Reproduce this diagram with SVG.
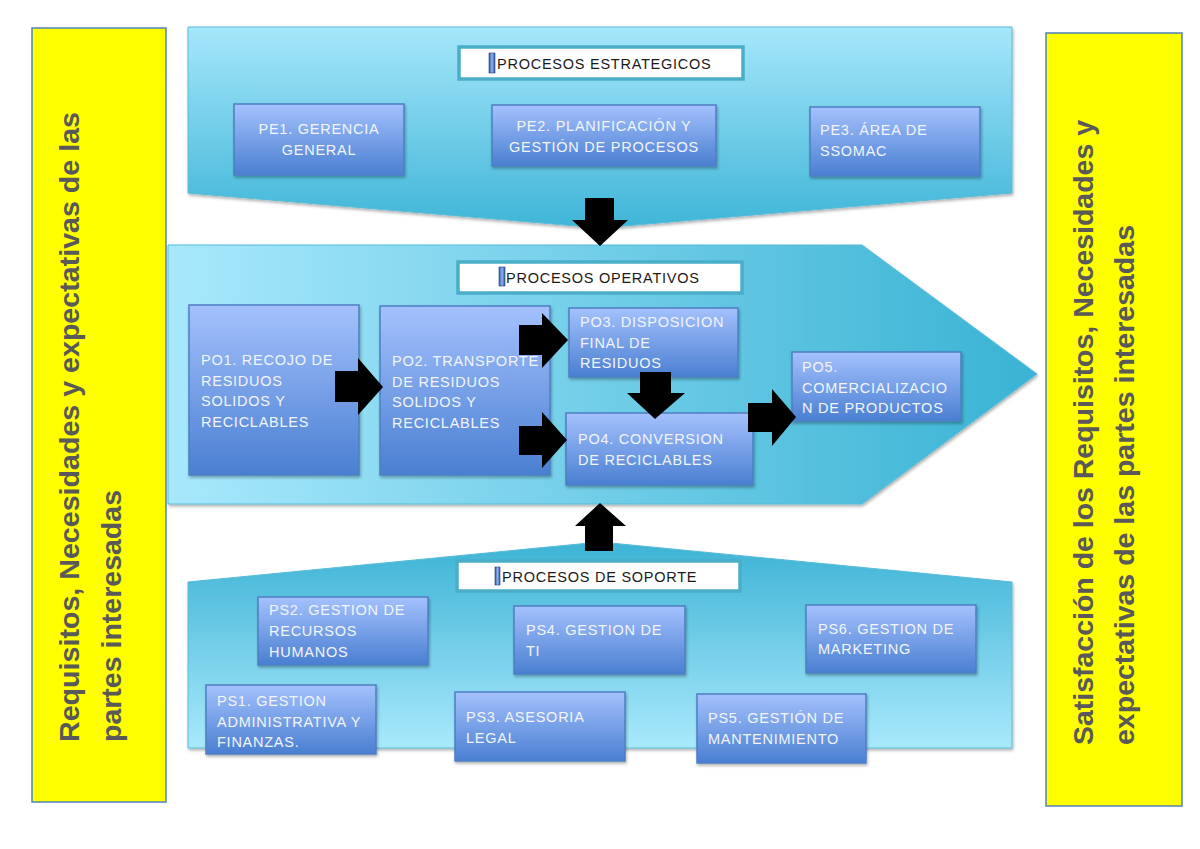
<svg xmlns="http://www.w3.org/2000/svg" width="1200" height="849" viewBox="0 0 1200 849">
<defs>
<linearGradient id="gTop" x1="0" y1="0" x2="0" y2="1"><stop offset="0" stop-color="#a6e7fb"/><stop offset="1" stop-color="#3fb5d7"/></linearGradient>
<linearGradient id="gBot" x1="0" y1="0" x2="0" y2="1"><stop offset="0" stop-color="#3db3d5"/><stop offset="1" stop-color="#a9e9fc"/></linearGradient>
<linearGradient id="gMid" x1="0" y1="0" x2="1" y2="0"><stop offset="0" stop-color="#a8e8fc"/><stop offset="1" stop-color="#3ab3d4"/></linearGradient>
<linearGradient id="gNode" x1="0" y1="0" x2="0" y2="1"><stop offset="0" stop-color="#a4c1fd"/><stop offset="1" stop-color="#4a7fd1"/></linearGradient>
<linearGradient id="gIcon" x1="0" y1="0" x2="1" y2="0"><stop offset="0" stop-color="#2f5aa8"/><stop offset="0.5" stop-color="#8fb0ee"/><stop offset="1" stop-color="#2f5aa8"/></linearGradient>
<filter id="sh" x="-10%" y="-10%" width="125%" height="130%"><feDropShadow dx="1" dy="2" stdDeviation="1.5" flood-color="#000" flood-opacity="0.3"/></filter>
</defs>
<style>
.side{fill:#ffff00;stroke:#4f81bd;stroke-width:1.5}
.sideT{font-family:"Liberation Sans",Arial,sans-serif;font-weight:bold;font-size:28.5px;fill:#595959}
.band{stroke:#58bcd8;stroke-width:1;filter:url(#sh)}
.node{fill:url(#gNode);stroke:#4d7fc4;stroke-width:1.5;filter:url(#sh)}
.nt{font-family:"Liberation Sans",Arial,sans-serif;font-size:14.5px;letter-spacing:0.75px;fill:#f2f4fa}
.title{fill:#ffffff;stroke:#4aaec9;stroke-width:3.5}
.tt{font-family:"Liberation Sans",Arial,sans-serif;font-size:14.5px;letter-spacing:0.75px;fill:#1a1a1a}
.icon{fill:url(#gIcon);stroke:#1f3f7a;stroke-width:0.6}
.arr{fill:#000000}
</style>

<g id="side-left">
<rect class="side" x="32" y="28" width="134" height="774"/>
<text class="sideT" transform="translate(79,742) rotate(-90)" textLength="630" lengthAdjust="spacingAndGlyphs">Requisitos, Necesidades y expectativas de las</text>
<text class="sideT" transform="translate(121,742) rotate(-90)" textLength="252" lengthAdjust="spacingAndGlyphs">partes interesadas</text>
</g>
<g id="side-right">
<rect class="side" x="1046" y="33" width="136" height="773"/>
<text class="sideT" transform="translate(1093,745) rotate(-90)" textLength="625" lengthAdjust="spacingAndGlyphs">Satisfacción de los Requisitos, Necesidades y</text>
<text class="sideT" transform="translate(1134,745) rotate(-90)" textLength="520" lengthAdjust="spacingAndGlyphs">expectativas de las partes interesadas</text>
</g>

<g id="band-estrategicos">
<polygon class="band" fill="url(#gTop)" points="188,27 1012,27 1012,193 600,228 188,193"/>
<rect class="title" x="459" y="47" width="284" height="32"/>
<rect class="icon" x="489" y="53" width="6" height="20"/>
<text class="tt" x="497" y="69">PROCESOS ESTRATEGICOS</text>
</g>
<g id="band-operativos">
<polygon class="band" fill="url(#gMid)" points="168,245 862,245 1037,374 862,504 168,504"/>
<rect class="title" x="458" y="262" width="284" height="31"/>
<rect class="icon" x="499" y="267" width="6" height="19"/>
<text class="tt" x="506" y="283">PROCESOS OPERATIVOS</text>
</g>
<g id="band-soporte">
<polygon class="band" fill="url(#gBot)" points="188,582 600,542 1012,582 1012,748 188,748"/>
<rect class="title" x="457" y="561" width="283" height="30"/>
<rect class="icon" x="495" y="567" width="5" height="18"/>
<text class="tt" x="502" y="582">PROCESOS DE SOPORTE</text>
</g>

<g id="PE1"><rect class="node" x="234" y="104" width="170" height="71"/>
<text class="nt" text-anchor="middle"><tspan x="319" y="134">PE1. GERENCIA</tspan><tspan x="319" y="155">GENERAL</tspan></text></g>
<g id="PE2"><rect class="node" x="492" y="105" width="224" height="61"/>
<text class="nt" text-anchor="middle"><tspan x="604" y="131">PE2. PLANIFICACIÓN Y</tspan><tspan x="604" y="152">GESTIÓN DE PROCESOS</tspan></text></g>
<g id="PE3"><rect class="node" x="810" y="107" width="170" height="69"/>
<text class="nt"><tspan x="820" y="135">PE3. ÁREA DE</tspan><tspan x="820" y="156">SSOMAC</tspan></text></g>

<g id="PO1"><rect class="node" x="189" y="305" width="170" height="170"/>
<text class="nt"><tspan x="201" y="365">PO1. RECOJO DE</tspan><tspan x="201" y="385.5">RESIDUOS</tspan><tspan x="201" y="406">SOLIDOS Y</tspan><tspan x="201" y="426.5">RECICLABLES</tspan></text></g>
<g id="PO2"><rect class="node" x="380" y="306" width="170" height="169"/>
<text class="nt"><tspan x="392" y="366">PO2. TRANSPORTE</tspan><tspan x="392" y="386.5">DE RESIDUOS</tspan><tspan x="392" y="407">SOLIDOS Y</tspan><tspan x="392" y="427.5">RECICLABLES</tspan></text></g>
<g id="PO3"><rect class="node" x="569" y="308" width="169" height="69"/>
<text class="nt"><tspan x="580" y="327">PO3. DISPOSICION</tspan><tspan x="580" y="347.5">FINAL DE</tspan><tspan x="580" y="368">RESIDUOS</tspan></text></g>
<g id="PO4"><rect class="node" x="566" y="413" width="187" height="72"/>
<text class="nt"><tspan x="578" y="444">PO4. CONVERSION</tspan><tspan x="578" y="465">DE RECICLABLES</tspan></text></g>
<g id="PO5"><rect class="node" x="792" y="352" width="169" height="69"/>
<text class="nt"><tspan x="802" y="372">PO5.</tspan><tspan x="802" y="392.5">COMERCIALIZACIO</tspan><tspan x="802" y="413">N DE PRODUCTOS</tspan></text></g>

<g id="PS2"><rect class="node" x="258" y="597" width="170" height="68"/>
<text class="nt"><tspan x="269" y="615">PS2. GESTION DE</tspan><tspan x="269" y="636">RECURSOS</tspan><tspan x="269" y="657">HUMANOS</tspan></text></g>
<g id="PS4"><rect class="node" x="514" y="606" width="171" height="68"/>
<text class="nt"><tspan x="526" y="635">PS4. GESTION DE</tspan><tspan x="526" y="656">TI</tspan></text></g>
<g id="PS6"><rect class="node" x="806" y="605" width="170" height="68"/>
<text class="nt"><tspan x="818" y="634">PS6. GESTION DE</tspan><tspan x="818" y="654">MARKETING</tspan></text></g>
<g id="PS1"><rect class="node" x="206" y="685" width="170" height="69"/>
<text class="nt"><tspan x="217" y="706">PS1. GESTION</tspan><tspan x="217" y="726.5">ADMINISTRATIVA Y</tspan><tspan x="217" y="747">FINANZAS.</tspan></text></g>
<g id="PS3"><rect class="node" x="455" y="692" width="170" height="69"/>
<text class="nt"><tspan x="466" y="722">PS3. ASESORIA</tspan><tspan x="466" y="743">LEGAL</tspan></text></g>
<g id="PS5"><rect class="node" x="697" y="694" width="169" height="69"/>
<text class="nt"><tspan x="708" y="723">PS5. GESTIÓN DE</tspan><tspan x="708" y="744">MANTENIMIENTO</tspan></text></g>

<g id="connectors">
<polygon class="arr" points="585,198 614,198 614,220 628,220 600,246 572,220 585,220"/>
<polygon class="arr" points="585,551 613,551 613,526 626,526 600,503 575,526 585,526"/>
<polygon class="arr" points="335,371 358,371 358,358 383,387 358,415 358,402 335,402"/>
<polygon class="arr" points="519,325 542,325 542,313 568,340 542,368 542,355 519,355"/>
<polygon class="arr" points="519,426 542,426 542,412 567,440 542,468 542,455 519,455"/>
<polygon class="arr" points="640,372 671,372 671,393 685,393 655,419 627,393 640,393"/>
<polygon class="arr" points="748,403 772,403 772,389 796,417 772,446 772,432 748,432"/>
</g>
</svg>
